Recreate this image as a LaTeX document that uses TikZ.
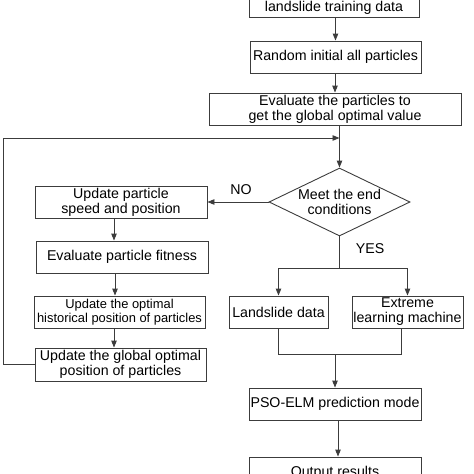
\documentclass[tikz,border=0pt]{standalone}
\usepackage{fontspec}
\setmainfont{Liberation Sans}
\usetikzlibrary{shapes.geometric, arrows.meta, positioning, calc}
\definecolor{lineGray}{RGB}{60,60,60}
\tikzset{
  box/.style={draw=lineGray, line width=0.9pt, rectangle, align=center, inner sep=0pt,
    minimum height=32pt, font=\fontsize{14.2}{15}\selectfont},
  smallbox/.style={box, font=\fontsize{12.9}{14}\selectfont},
  decision/.style={draw=lineGray, line width=0.9pt, diamond, aspect=2, align=center, inner sep=0pt,
    minimum width=141pt, minimum height=68pt, font=\fontsize{14.2}{15}\selectfont},
  arr/.style={draw=lineGray, line width=0.9pt, -{Triangle[length=7pt, width=5.5pt]}},
  ln/.style={draw=lineGray, line width=0.9pt},
  lbl/.style={font=\fontsize{14.2}{15}\selectfont, inner sep=0pt}
}
\begin{document}
\begin{tikzpicture}[x=1pt, y=-1pt]
  \useasboundingbox (0,0) rectangle (474,474);
  \clip (0,0) rectangle (474,474);

  % Main column
  \node[box, minimum width=170pt, minimum height=34pt] (train) at (334, 0) {\strut\\landslide training data};
  \node[box, minimum width=171pt] (rand) at (335.5, 57) {Random initial all particles};
  \node[box, minimum width=252pt] (eval) at (335, 109) {Evaluate the particles to\\get the global optimal value};
  \node[decision] (cond) at (339.5, 202) {Meet the end\\conditions};

  % Update loop
  \node[box, minimum width=172pt] (upd) at (121, 202) {Update particle\\speed and position};
  \node[box, minimum width=172pt] (fit) at (122, 257) {Evaluate particle fitness};
  \node[smallbox, minimum width=171pt] (hist) at (119.5, 312) {Update the optimal\\historical position of particles};
  \node[box, minimum width=171pt, minimum height=33pt] (glob) at (120.5, 364.5) {Update the global optimal\\position of particles};

  % Model branch
  \node[box, minimum width=99pt] (land) at (278.5, 312) {Landslide data};
  \node[box, minimum width=111pt] (elm) at (407.5, 312) {Extreme\\learning machine};
  \node[box, minimum width=172pt] (pso) at (335, 404) {PSO-ELM prediction mode};
  \node[box, minimum width=172pt] (out) at (335, 473) {Output results};

  \coordinate (merge) at (cond.north |- 0,138);
  \coordinate (split) at (cond.south |- 0,268);
  \coordinate (join) at (pso.north |- 0,354);

  % Connectors
  \draw[arr] (train.south -| rand.north) -- (rand.north);
  \draw[arr] (rand.south -| eval.north) -- (eval.north);
  \draw[arr] (eval.south -| cond.north) -- (cond.north);
  \draw[arr] (glob.west) -- ++(-31,0) |- (merge);
  \draw[arr] (cond.west) -- (upd.east) node[lbl, pos=0.45, above=7pt] {NO};
  \draw[arr] (upd.south -| 114,0) -- (fit.north -| 114,0);
  \draw[arr] (fit.south -| 115,0) -- (hist.north -| 115,0);
  \draw[arr] (hist.south -| 114,0) -- (glob.north -| 114,0);
  \draw[ln] (cond.south) -- (split) node[lbl, pos=0.4, right=16pt] {YES};
  \draw[arr] (split) -| (land.north);
  \draw[arr] (split) -| (elm.north);
  \draw[ln] (land.south) |- (join);
  \draw[ln] ([xshift=-6pt]elm.south) |- (join);
  \draw[arr] (join) -- (pso.north);
  \draw[arr] ([xshift=3pt]pso.south) -- ([xshift=3pt]out.north);
\end{tikzpicture}
\end{document}
